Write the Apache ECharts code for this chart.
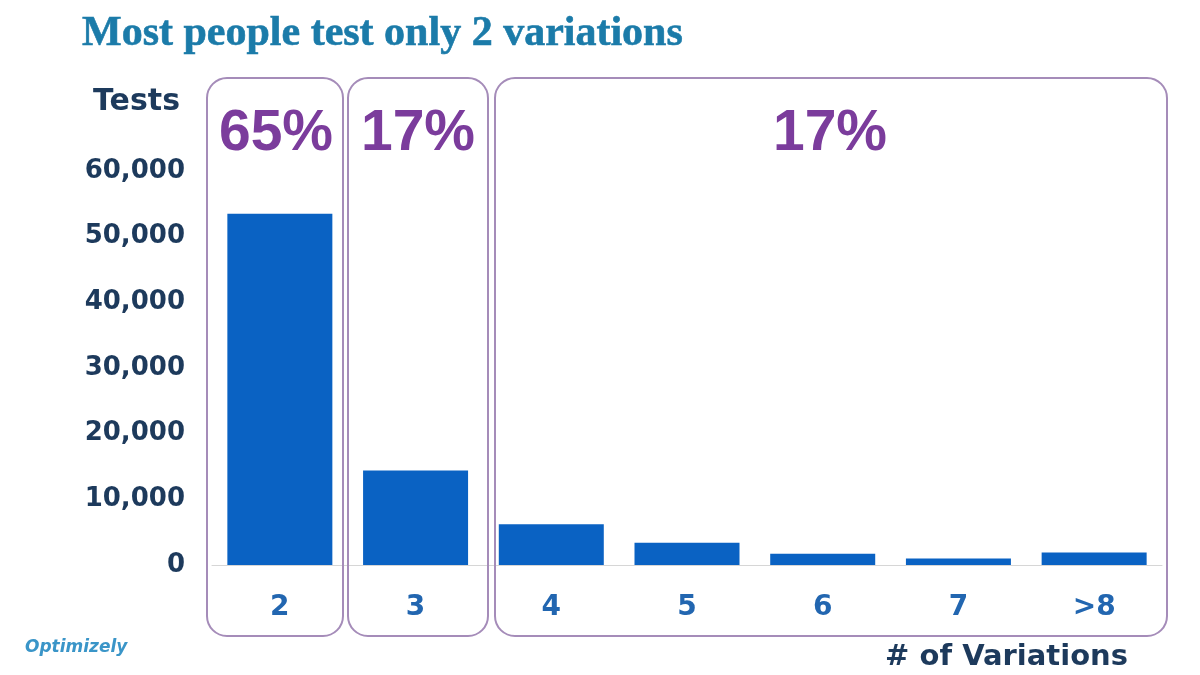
<!DOCTYPE html>
<html>
<head>
<meta charset="utf-8">
<script src="https://cdn.jsdelivr.net/npm/echarts@6/dist/echarts.min.js"></script>
<style>
  html, body { margin: 0; padding: 0; background: #fff; }
  #chart { width: 1200px; height: 675px; }
</style>
</head>
<body>
<div id="chart"></div>
<script>
// data
const variations = ['2', '3', '4', '5', '6', '7', '>8'];
const tests = [53500, 14400, 6200, 3400, 1700, 1000, 1900];
const yTicks = [0, 10000, 20000, 30000, 40000, 50000, 60000];
// share of tests per group of variations
const groupLabels = ['65%', '17%', '17%'];

const navy = '#1d3a5c';
const purple = '#7b3c9c';
const boxStroke = '#a58cb9';

const chart = echarts.init(document.getElementById('chart'));

function box(x, w) {
  return {
    type: 'rect',
    shape: { x: x, y: 78, width: w, height: 558, r: 20 },
    style: { fill: 'none', stroke: boxStroke, lineWidth: 2 },
    z: 1
  };
}

function pct(text, cx) {
  return {
    type: 'text',
    x: cx, y: 134,
    style: {
      text: text,
      font: 'bold 57px "Liberation Sans", Arial, sans-serif',
      fill: purple,
      align: 'center',
      verticalAlign: 'middle'
    },
    z: 5
  };
}

const option = {
  backgroundColor: '#fff',
  animation: false,
  grid: { left: 212, right: 38, top: 171, bottom: 110 },
  xAxis: {
    type: 'category',
    data: variations,
    axisLine: { lineStyle: { color: '#d6d6d6', width: 1 } },
    axisTick: { show: false },
    axisLabel: {
      margin: 29,
      fontFamily: 'DejaVu Sans',
      fontWeight: 'bold',
      fontSize: 28,
      color: '#2266b0'
    }
  },
  yAxis: {
    type: 'value',
    min: yTicks[0],
    max: yTicks[yTicks.length - 1],
    interval: yTicks[1] - yTicks[0],
    splitLine: { show: false },
    axisLine: { show: false },
    axisTick: { show: false },
    axisLabel: {
      margin: 27,
      fontFamily: 'DejaVu Sans',
      fontWeight: 'bold',
      fontSize: 26,
      color: navy,
      padding: [3, 0, 0, 0],
      formatter: v => v.toLocaleString('en-US')
    }
  },
  series: [{
    type: 'bar',
    data: tests,
    barWidth: 105,
    itemStyle: { color: '#0a62c3' },
    z: 3
  }],
  graphic: [
    {
      type: 'text',
      x: 82, y: 34,
      style: {
        text: 'Most people test only 2 variations',
        font: 'bold 42px "Liberation Serif", "Times New Roman", serif',
        fill: '#1b7ba9',
        stroke: '#1b7ba9',
        lineWidth: 0.6,
        verticalAlign: 'middle'
      }
    },
    {
      type: 'text',
      x: 180, y: 102,
      style: {
        text: 'Tests',
        font: 'bold 30px "DejaVu Sans", sans-serif',
        fill: navy,
        align: 'right',
        verticalAlign: 'middle'
      }
    },
    {
      type: 'text',
      x: 1128, y: 657,
      style: {
        text: '# of Variations',
        font: 'bold 29px "DejaVu Sans", sans-serif',
        fill: navy,
        align: 'right',
        verticalAlign: 'middle'
      }
    },
    {
      type: 'text',
      x: 25, y: 648,
      style: {
        text: 'Optimizely',
        font: 'italic bold 17px "DejaVu Sans", sans-serif',
        fill: '#3a95c8',
        verticalAlign: 'middle'
      }
    },
    box(207, 136),
    box(348, 140),
    box(495, 672),
    pct(groupLabels[0], 276),
    pct(groupLabels[1], 418),
    pct(groupLabels[2], 830)
  ]
};

chart.setOption(option);
</script>
</body>
</html>
